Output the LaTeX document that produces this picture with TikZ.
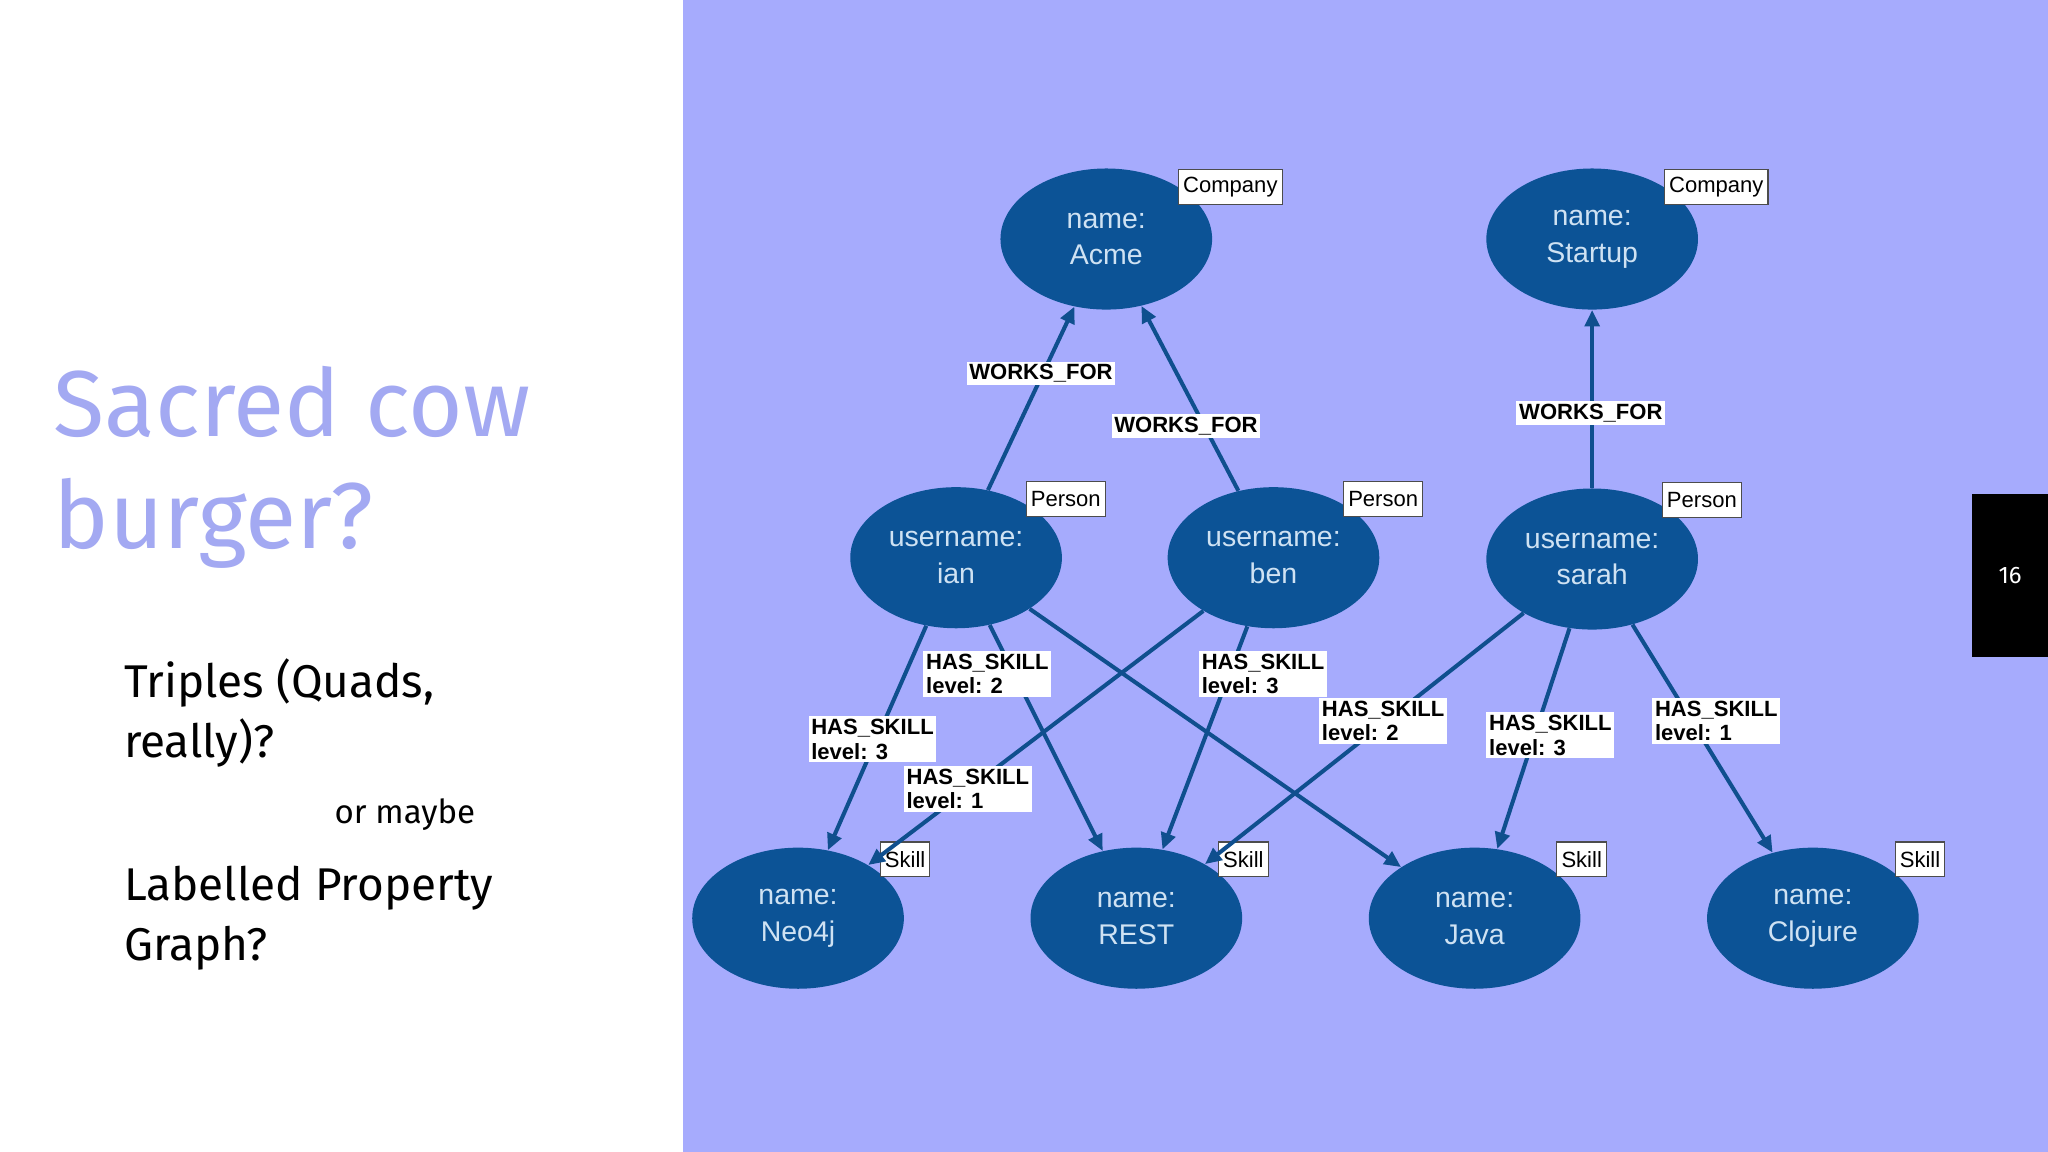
\documentclass[tikz,border=0pt]{standalone}
\usepackage{fontspec}
\setmainfont{Liberation Sans}
\newfontfamily\fira{Fira Sans}
\usetikzlibrary{arrows.meta,shapes.geometric}
\definecolor{bg}{HTML}{A6ABFD}
\definecolor{nd}{HTML}{0C5396}
\definecolor{ntx}{HTML}{CFE2F3}
\definecolor{ttl}{HTML}{A3A9F2}
\definecolor{ed}{HTML}{0F4F8E}
\begin{document}
\begin{tikzpicture}[x=0.025cm,y=-0.025cm,
 ent/.style={ellipse,fill=nd,inner sep=0,text=ntx,align=center,font=\fontsize{15.5}{20}\selectfont,minimum width=4.05cm,minimum height=2.7cm},
 tag/.style={draw=black!70,fill=white,line width=0.6pt,font=\fontsize{12}{14}\selectfont,inner sep=2.5pt,minimum height=19pt},
 lab/.style={fill=white,font=\bfseries\fontsize{12}{13.5}\selectfont,align=left,inner sep=1.5pt},
 rel/.style={draw=ed,line width=2.2pt,-{Triangle[length=9pt,width=8pt]}}]
\fill[white] (0,0) rectangle (523,882);
\fill[bg] (523,0) rectangle (1568,882);
\useasboundingbox (0,0) rectangle (1568,882);
\node[anchor=west,text=ttl,font=\fira\fontsize{51}{61}\selectfont,align=left] (title) at (36,358) {Sacred cow\\burger?};
\node[anchor=west,font=\fira\fontsize{25}{33}\selectfont,align=left] (t1) at (90,546) {Triples (Quads,\\really)?};
\node[font=\fira\fontsize{18}{22}\selectfont] (t2) at (310,624) {or maybe};
\node[anchor=west,font=\fira\fontsize{25}{33}\selectfont,align=left] (t3) at (90,703) {Labelled Property\\Graph?};
\fill[black] (1510,378) rectangle (1568,503);
\node[text=white,font=\fira\fontsize{13}{15}\selectfont] (pg) at (1539,441) {16};
\node[ent] (acme) at (847,183) {name:\\Acme};
\node[ent] (startup) at (1219,183) {name:\\Startup};
\node[ent] (ian) at (732,427) {username:\\ian};
\node[ent] (ben) at (975,427) {username:\\ben};
\node[ent] (sarah) at (1219,428) {username:\\sarah};
\node[ent] (neo) at (611,703) {name:\\Neo4j};
\node[ent] (rest) at (870,703) {name:\\REST};
\node[ent] (java) at (1129,703) {name:\\Java};
\node[ent] (clj) at (1388,703) {name:\\Clojure};
\node[tag] (c1) at (942,143) {Company};
\node[tag] (c2) at (1314,143) {Company};
\node[tag] (p1) at (816,382) {Person};
\node[tag] (p2) at (1059,382) {Person};
\node[tag] (p3) at (1303,383) {Person};
\node[tag] (s1) at (693,658) {Skill};
\node[tag] (s2) at (952,658) {Skill};
\node[tag] (s3) at (1211,658) {Skill};
\node[tag] (s4) at (1470,658) {Skill};
\draw[rel] (ian) -- (acme);
\draw[rel] (ben) -- (acme);
\draw[rel] (sarah) -- (startup);
\draw[rel] (ian) -- (neo);
\draw[rel] (ian) -- (rest);
\draw[rel] (ian) -- (java);
\draw[rel] (ben) -- (neo);
\draw[rel] (ben) -- (rest);
\draw[rel] (sarah) -- (rest);
\draw[rel] (sarah) -- (java);
\draw[rel] (sarah) -- (clj);
\node[lab] (w1) at (797,286) {WORKS\_FOR};
\node[lab] (w2) at (908,326) {WORKS\_FOR};
\node[lab] (w3) at (1218,316) {WORKS\_FOR};
\node[lab] (h1) at (756,516) {HAS\_SKILL\\level: 2};
\node[lab] (h2) at (668,566) {HAS\_SKILL\\level: 3};
\node[lab] (h3) at (741,604) {HAS\_SKILL\\level: 1};
\node[lab] (h4) at (967,516) {HAS\_SKILL\\level: 3};
\node[lab] (h5) at (1059,552) {HAS\_SKILL\\level: 2};
\node[lab] (h6) at (1187,563) {HAS\_SKILL\\level: 3};
\node[lab] (h7) at (1314,552) {HAS\_SKILL\\level: 1};
\end{tikzpicture}
\end{document}
